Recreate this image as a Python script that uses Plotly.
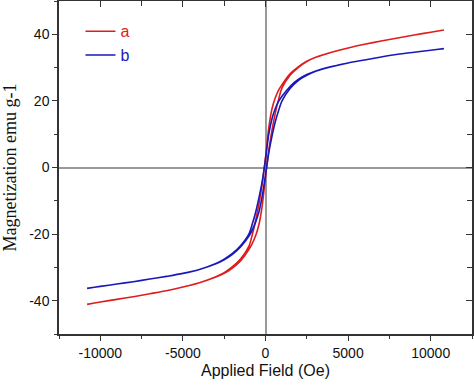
import plotly.graph_objects as go

# Applied field (Oe) - descending branch (+H -> -H)
field_desc = [10800, 10000, 9000, 8000, 7000, 6000, 5000, 4000, 3000, 2500, 2000, 1500,
              1000, 800, 600, 400, 200, 0, -200, -400, -600, -800, -1000, -1500, -2000,
              -2500, -3000, -4000, -5000, -6000, -7000, -8000, -9000, -10000, -10800]
# ascending branch (-H -> +H)
field_asc = field_desc[::-1]

# Sample a magnetization (emu/g)
mag_a_desc = [41.3, 40.6, 39.8, 38.9, 38.0, 37.0, 35.9, 34.6, 33.0, 31.9, 30.3, 28.2,
              24.9, 23.3, 21.0, 17.8, 12.0, 3.0, -5.0, -11.0, -16.0, -20.2, -23.6, -27.4,
              -29.8, -31.6, -32.8, -34.6, -35.9, -37.0, -37.9, -38.8, -39.6, -40.4, -41.1]
mag_a_asc = [-41.1, -40.4, -39.6, -38.8, -37.9, -37.0, -35.9, -34.6, -32.9, -31.8, -30.2,
             -28.0, -24.6, -22.8, -20.5, -17.2, -11.5, -2.8, 5.2, 11.4, 16.5, 20.6, 23.9,
             27.8, 30.1, 31.8, 33.0, 34.6, 35.9, 37.0, 38.0, 38.9, 39.8, 40.6, 41.3]

# Sample b magnetization (emu/g)
mag_b_desc = [35.7, 35.2, 34.6, 34.0, 33.2, 32.3, 31.4, 30.3, 28.9, 27.9, 26.5, 24.4,
              21.4, 19.9, 17.8, 14.8, 10.0, 2.5, -4.2, -9.2, -13.5, -17.0, -19.9, -23.4,
              -25.8, -27.5, -28.8, -30.6, -31.8, -32.7, -33.5, -34.3, -35.0, -35.7, -36.3]
mag_b_asc = [-36.3, -35.7, -35.0, -34.3, -33.5, -32.7, -31.8, -30.6, -28.9, -27.7, -26.1,
             -23.8, -20.6, -18.8, -16.4, -13.4, -8.6, -2.3, 4.5, 9.6, 13.9, 17.2, 20.0,
             23.8, 26.2, 27.7, 28.8, 30.3, 31.4, 32.3, 33.2, 34.0, 34.6, 35.2, 35.7]

x_tickvals = [-10000, -5000, 0, 5000, 10000]
x_ticktext = ["-10000", "-5000", "0", "5000", "10000"]
y_tickvals = [-40, -20, 0, 20, 40]
y_ticktext = ["-40", "-20", "0", "20", "40"]

RED = "rgb(222,30,30)"
BLUE = "rgb(25,25,185)"

fig = go.Figure()
fig.add_trace(go.Scatter(x=field_desc + field_asc, y=mag_a_desc + mag_a_asc, mode="lines",
                         line=dict(color=RED, width=1.6, shape="spline", smoothing=0.8),
                         name='<span style="color:rgb(222,30,30)">a</span>'))
fig.add_trace(go.Scatter(x=field_desc + field_asc, y=mag_b_desc + mag_b_asc, mode="lines",
                         line=dict(color=BLUE, width=1.6, shape="spline", smoothing=0.8),
                         name='<span style="color:rgb(25,25,185)">b</span>'))
# empty trace to enable mirrored inside-tick axes
fig.add_trace(go.Scatter(x=[None], y=[None], xaxis="x2", yaxis="y2", showlegend=False))

axcol = "#333333"
xr = [-12500, 12500]
yr = [-50, 50]
fig.update_layout(
    width=474, height=387,
    margin=dict(l=59, r=2, t=1, b=53),
    paper_bgcolor="white", plot_bgcolor="white",
    font=dict(family="Liberation Sans, Arial, sans-serif", size=14, color="#111"),
    showlegend=True,
    legend=dict(x=0.052, y=0.96, xanchor="left", yanchor="top", bgcolor="rgba(0,0,0,0)",
                font=dict(size=16), tracegroupgap=0, itemwidth=30),
    xaxis=dict(range=xr, tickvals=x_tickvals, ticktext=x_ticktext, ticks="outside",
               ticklen=5, tickwidth=1.3, tickcolor=axcol, showline=True, linecolor=axcol,
               linewidth=1.5, showgrid=False, zeroline=True, zerolinecolor="#999999",
               zerolinewidth=1.5, automargin=False,
               minor=dict(dtick=2500, tick0=0, ticks="outside", ticklen=3, tickcolor=axcol),
               title=dict(text="Applied Field (Oe)", font=dict(size=16), standoff=5)),
    yaxis=dict(range=yr, tickvals=y_tickvals, ticktext=y_ticktext, ticks="outside",
               ticklen=5, tickwidth=1.3, tickcolor=axcol, showline=True, linecolor=axcol,
               linewidth=1.5, showgrid=False, zeroline=True, zerolinecolor="#999999",
               zerolinewidth=1.5, automargin=False,
               minor=dict(dtick=10, tick0=0, ticks="outside", ticklen=3, tickcolor=axcol),
               title=dict(text="Magnetization emu g-1",
                          font=dict(family="Liberation Serif, Times New Roman, serif", size=18))),
    xaxis2=dict(range=xr, overlaying="x", side="top", tickvals=x_tickvals, showticklabels=False,
                ticks="inside", ticklen=6, tickwidth=1.3, tickcolor=axcol, showline=True,
                linecolor=axcol, linewidth=1.5, showgrid=False, zeroline=False, automargin=False,
                minor=dict(dtick=2500, tick0=0, ticks="inside", ticklen=5, tickcolor=axcol)),
    yaxis2=dict(range=yr, overlaying="y", side="right", tickvals=y_tickvals, showticklabels=False,
                ticks="inside", ticklen=6, tickwidth=1.3, tickcolor=axcol, showline=True,
                linecolor=axcol, linewidth=1.5, showgrid=False, zeroline=False, automargin=False,
                minor=dict(dtick=10, tick0=0, ticks="inside", ticklen=5, tickcolor=axcol)),
)

fig.write_html("out.html", config={"displayModeBar": False},
               post_script="document.body.style.margin='0';document.body.style.overflow='hidden';")
